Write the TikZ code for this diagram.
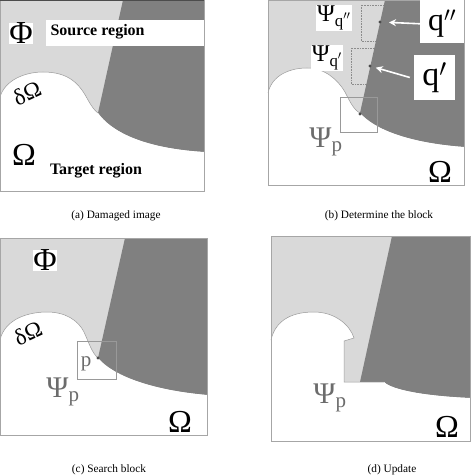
\documentclass[tikz,border=0pt]{standalone}
\usepackage{fontspec}
\setmainfont{Liberation Serif}
\usetikzlibrary{arrows.meta}
\definecolor{srcgray}{gray}{0.85}
\definecolor{holegray}{gray}{0.5}
\newcommand{\fsz}[1]{\fontsize{#1}{#1}\selectfont}
\tikzset{
  panel/.style={draw=gray!70, line width=0.6pt},
  rim/.style={draw=gray!80, line width=0.5pt},
  lbl/.style={fill=white, inner sep=1.5pt},
  caption/.style={font=\fsz{11.3}},
  patch/.style={draw=gray!80, line width=0.6pt},
  dotbox/.style={draw=gray!90, densely dotted, line width=0.6pt},
  pin/.style={white, line width=1.6pt, -{Stealth[length=7pt,width=7pt]}},
}
\begin{document}
\begin{tikzpicture}[x=1pt,y=-1pt]
\useasboundingbox (0,0) rectangle (474,476);

% (a) damaged image
\fill[srcgray] (0,0) rectangle (204,191);
\fill[holegray] (123,0) -- (204,0) -- (204,152) .. controls (140,148) and (110,130) .. (98,113) -- cycle;
\fill[white] (0,97) .. controls (5,80) and (25,72) .. (43,72) .. controls (70,72) and (80,85) .. (88,100)
  .. controls (92,107) and (95,111) .. (98,113) .. controls (110,130) and (140,148) .. (204,152)
  -- (204,191) -- (0,191) -- cycle;
\draw[rim] (0,97) .. controls (5,80) and (25,72) .. (43,72) .. controls (70,72) and (80,85) .. (88,100)
  .. controls (92,107) and (95,111) .. (98,113);
\draw[panel] (0,0) rectangle (204,191);
\draw[gray!60!black, line width=1.2pt] (0,0.6) -- (204,0.6);
\node[lbl, font=\fsz{32}, inner sep=0.5pt] (phiA) at (21,33.5) {Φ};
\fill[white] (46,20) rectangle (204,46);
\node[anchor=west, font=\bfseries\fsz{16}] (srcA) at (47,32) {Source region};
\node[rotate=25, font=\fsz{23}] (bndA) at (27,93) {δΩ};
\node[font=\fsz{32}] (omA) at (24,155) {Ω};
\node[font=\bfseries\fsz{16}] (tgtA) at (96,171) {Target region};
\node[caption] (capA) at (116,216) {(a) Damaged image};

% (b) determine the block
\fill[srcgray] (268,0) rectangle (464,185);
\draw[dotbox] (361,5) rectangle (397,41);
\draw[dotbox] (351,48) rectangle (387,84);
\fill[holegray] (385,0) -- (464,0) -- (464,147) .. controls (410,143) and (375,130) .. (360,113) -- cycle;
\fill[white] (268,93) .. controls (272,75) and (290,68) .. (307,68) .. controls (325,68) and (338,80) .. (345,92)
  .. controls (350,102) and (354,110) .. (360,113) .. controls (375,130) and (410,143) .. (464,147)
  -- (464,185) -- (268,185) -- cycle;
\draw[rim] (268,93) .. controls (272,75) and (290,68) .. (307,68) .. controls (325,68) and (338,80) .. (345,92)
  .. controls (350,102) and (354,110) .. (360,113);
\draw[patch] (340,97) rectangle (377,132);
\draw[panel] (268,0) rectangle (464,185);
\coordinate (pB) at (360,114);
\coordinate (qtwo) at (380,22);
\coordinate (qone) at (370,66);
\fill[gray!60!black] (pB) circle (1.6) (qtwo) circle (1.6) (qone) circle (1.6);
\node[lbl, font=\fsz{24}, inner sep=1pt] (psiqtwo) at (334,18) {Ψ\textsubscript{q$''$}};
\node[lbl, font=\fsz{24}, inner sep=1pt] (psiqone) at (327,58) {Ψ\textsubscript{q$'$}};
\fill[white] (420,0) rectangle (464,43);
\node[font=\fsz{32}, inner sep=1pt] (qtwoL) at (442,24) {q$''$};
\node[lbl, font=\fsz{34}, minimum width=41pt, minimum height=45pt] (qoneL) at (434.5,77.5) {q$'$};
\draw[pin, shorten >=9pt] ([xshift=-2pt]qtwoL.west) -- (qtwo);
\draw[pin, shorten >=6pt] ([xshift=-4pt]qoneL.west) -- (qone);
\node[font=\fsz{30}, text=gray!85!black] (psipB) at (326,142) {Ψ\textsubscript{p}};
\node[font=\fsz{32}] (omB) at (440,172) {Ω};
\node[caption] (capB) at (379,216) {(b) Determine the block};

% (c) search block
\fill[srcgray] (0,238) rectangle (207,435);
\fill[holegray] (125,238) -- (207,238) -- (207,395) .. controls (150,390) and (112,375) .. (98,358) -- cycle;
\fill[white] (0,340) .. controls (5,318) and (30,312) .. (47,312) .. controls (65,312) and (78,320) .. (84,332)
  .. controls (89,343) and (92,353) .. (98,358) .. controls (112,375) and (150,390) .. (207,395)
  -- (207,435) -- (0,435) -- cycle;
\draw[rim] (0,340) .. controls (5,318) and (30,312) .. (47,312) .. controls (65,312) and (78,320) .. (84,332)
  .. controls (89,343) and (92,353) .. (98,358);
\draw[patch] (77,341) rectangle (116,379);
\draw[panel] (0,238) rectangle (207,435);
\coordinate (pC) at (98,358);
\fill[gray!60!black] (pC) circle (1.6);
\node[lbl, font=\fsz{32}, inner sep=0.5pt] (phiC) at (45,260.5) {Φ};
\node[rotate=25, font=\fsz{23}] (bndC) at (28,333) {δΩ};
\node[font=\fsz{21}, text=gray!85!black] (pLC) at (86,364) {p};
\node[font=\fsz{30}, text=gray!85!black] (psipC) at (63,392) {Ψ\textsubscript{p}};
\node[font=\fsz{32}] (omC) at (180,422) {Ω};
\node[caption] (capC) at (109,470) {(c) Search block};

% (d) update
\fill[srcgray] (271,236) rectangle (470,441);
\fill[holegray] (392,236) -- (470,236) -- (470,398) .. controls (425,396) and (392,390) .. (384,382) -- (360,382) -- cycle;
\fill[white] (271,340) .. controls (276,318) and (295,312) .. (314,312) .. controls (335,312) and (350,325) .. (354,338)
  -- (344,341) -- (344,382) -- (384,382) .. controls (392,390) and (425,396) .. (470,398)
  -- (470,441) -- (271,441) -- cycle;
\draw[rim] (271,340) .. controls (276,318) and (295,312) .. (314,312) .. controls (335,312) and (350,325) .. (354,338)
  -- (344,341) -- (344,382) -- (384,382);
\draw[panel] (271,236) rectangle (470,441);
\node[font=\fsz{30}, text=gray!85!black] (psipD) at (330,398) {Ψ\textsubscript{p}};
\node[font=\fsz{32}] (omD) at (447,427) {Ω};
\node[caption] (capD) at (392,470) {(d) Update};
\end{tikzpicture}
\end{document}
